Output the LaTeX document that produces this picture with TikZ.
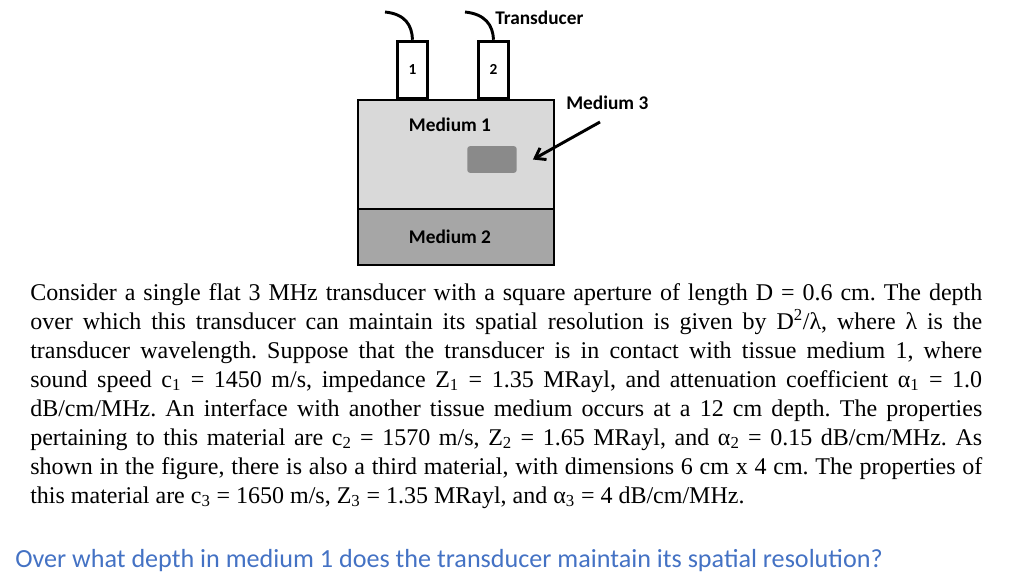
\documentclass[tikz,border=0pt]{standalone}
\usepackage{fontspec}
\usetikzlibrary{arrows.meta}
\setmainfont{Liberation Serif}
\newfontfamily\calfont{Carlito}
\definecolor{qblue}{RGB}{68,114,196}
\begin{document}
\frenchspacing
\begin{tikzpicture}[x=0.75pt,y=-0.75pt,
  lab/.style={font=\calfont\bfseries\fontsize{14.5}{16}\selectfont},
  ln/.style={line width=2.2pt}]
\useasboundingbox (0,0) rectangle (1032,582);
\fill[gray!30] (358,100) rectangle (554,209);
\fill[gray!70] (358,209) rectangle (554,265);
\draw[ln] (358,100) rectangle (554,265);
\draw[ln] (358,209) -- (554,209);
\node[draw,ln,minimum width=23pt,minimum height=43pt,inner sep=0pt,anchor=south] (t1) at (412.5,100) {};
\node[draw,ln,minimum width=22pt,minimum height=43pt,inner sep=0pt,anchor=south] (t2) at (493.5,100) {};
\node[font=\calfont\bfseries\fontsize{11.5}{12}\selectfont] at (t1) {1};
\node[font=\calfont\bfseries\fontsize{11.5}{12}\selectfont] at (t2) {2};
\coordinate (c1) at (385,12);
\coordinate (c2) at (465,12);
\draw[ln] (c1) .. controls (405,14) and (412,25) .. (t1.north);
\draw[ln] (c2) .. controls (485,14) and (493,25) .. (t2.north);
\node[lab,anchor=west,inner sep=0pt] (tr) at (495,18) {Transducer};
\node[lab] (m1) at (450,125) {Medium 1};
\node[lab] (m2) at (450,237) {Medium 2};
\node[fill=gray!85!black!80,rounded corners=2pt,minimum width=37pt,minimum height=20pt,inner sep=0pt] (m3box) at (492,159.5) {};
\node[lab,anchor=west,inner sep=0pt] (m3) at (566,103) {Medium 3};
\coordinate (ae) at (600,122);
\draw[ln,-{Straight Barb[length=7pt,width=10pt]}] (ae) -- ([xshift=12pt]m3box.east);
\node[anchor=north west,inner sep=0pt,text width=714pt,align=justify,font=\fontsize{18}{21.75}\selectfont] (p) at (30,283) {Consider a single flat 3 MHz transducer with a square aperture of length D = 0.6 cm. The depth\linebreak over which this transducer can maintain its spatial resolution is given by D\textsuperscript{2}/λ, where λ is the\linebreak transducer wavelength. Suppose that the transducer is in contact with tissue medium 1, where\linebreak sound speed c\textsubscript{1} = 1450 m/s, impedance Z\textsubscript{1} = 1.35 MRayl, and attenuation coefficient α\textsubscript{1} = 1.0\linebreak dB/cm/MHz. An interface with another tissue medium occurs at a 12 cm depth. The properties\linebreak pertaining to this material are c\textsubscript{2} = 1570 m/s, Z\textsubscript{2} = 1.65 MRayl, and α\textsubscript{2} = 0.15 dB/cm/MHz. As\linebreak shown in the figure, there is also a third material, with dimensions 6 cm x 4 cm. The properties of\linebreak this material are c\textsubscript{3} = 1650 m/s, Z\textsubscript{3} = 1.35 MRayl, and α\textsubscript{3} = 4 dB/cm/MHz.};
\node[anchor=west,inner sep=0pt,text=qblue,font=\calfont\fontsize{19.6}{22}\selectfont] (q) at (15,561) {Over what depth in medium 1 does the transducer maintain its spatial resolution?};
\end{tikzpicture}
\end{document}
